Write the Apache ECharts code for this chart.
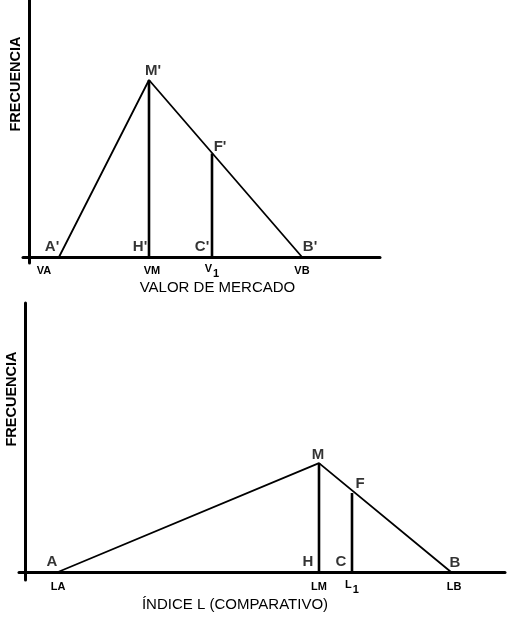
<!DOCTYPE html>
<html><head><meta charset="utf-8">
<script src="https://cdn.jsdelivr.net/npm/echarts@6/dist/echarts.min.js"></script>
<style>html,body{margin:0;padding:0;background:#fff}#c{width:510px;height:620px}</style>
</head><body><div id="c"></div>
<script>
// ---- Top chart: market value distribution ----
const topPointNames = ["A'", "M'", "B'"];
const topPointX = [10, 40, 91];
const topPointY = [0, 59, 0];
const topCutName = ["C'", "F'"];
const topCutX = 61;
const topCutY = 34.5;
const topFootName = "H'";
const topTickValues = [5, 41, 61, 91];
const topTickLabels = ["VA", "VM", "{v|V}{s|1}", "VB"];
const topXTitle = "VALOR DE MERCADO";
const yTitle = "FRECUENCIA";

// ---- Bottom chart: comparative index ----
const botPointNames = ["A", "M", "B"];
const botPointX = [11, 98, 142];
const botPointY = [0, 36.3, 0];
const botCutName = ["C", "F"];
const botCutX = 109;
const botCutY = 26.3;
const botFootName = "H";
const botTickValues = [11, 98, 109, 143];
const botTickLabels = ["LA", "LM", "{v|L}{s|1}", "LB"];
const botXTitle = "ÍNDICE L (COMPARATIVO)";

const FONT = "'Liberation Sans', Arial, sans-serif";

// label offsets (style only)
const topOffsets = {"A'": [-7, -10], "M'": [4, -9], "B'": [8, -10], "H'": [-9, -10], "C'": [-10, -10], "F'": [8, -7]};
const botOffsets = {"A": [-6, -10], "M": [-1, -8], "B": [4, -9], "H": [-11, -10], "C": [-11, -10], "F": [8, -9]};

function labelData(names, xs, ys, cutNames, cx, cy, footName, offs) {
  const d = [];
  names.forEach((n, i) => d.push({ name: n, value: [xs[i], ys[i]] }));
  d.push({ name: footName, value: [xs[1], 0] });
  d.push({ name: cutNames[0], value: [cx, 0] });
  d.push({ name: cutNames[1], value: [cx, cy] });
  d.forEach(it => { it.label = { offset: offs[it.name] }; });
  return d;
}

function xAxisCfg(gi, min, max, ticks, labels, margin) {
  return {
    type: 'value', gridIndex: gi, min: min, max: max,
    axisLine: { show: true, onZero: true, lineStyle: { color: '#000', width: 3 } },
    axisTick: { show: false }, splitLine: { show: false },
    axisLabel: {
      customValues: ticks, margin: margin, color: '#000',
      fontFamily: FONT, fontWeight: 'bold', fontSize: 11,
      formatter: v => { const i = ticks.indexOf(v); return i >= 0 ? labels[i] : ''; },
      rich: {
        v: { fontFamily: FONT, fontWeight: 'bold', fontSize: 11, lineHeight: 13, padding: [0, 0, 5, 0], color: '#000' },
        s: { fontFamily: FONT, fontWeight: 'bold', fontSize: 11, lineHeight: 13, padding: [5, 0, 0, 1], color: '#000' }
      }
    }
  };
}
function yAxisCfg(gi, min, max) {
  return {
    type: 'value', gridIndex: gi, min: min, max: max,
    axisLine: { show: true, onZero: true, lineStyle: { color: '#000', width: 3 } },
    axisTick: { show: false }, splitLine: { show: false }, axisLabel: { show: false }
  };
}
function lineSeries(gi, data, w) {
  return { type: 'line', xAxisIndex: gi, yAxisIndex: gi, data: data, symbol: 'none',
    lineStyle: { color: '#000', width: w }, silent: true, z: 3 };
}

const option = {
  animation: false,
  backgroundColor: '#fff',
  grid: [
    { left: 23, top: 0, width: 357, height: 263 },
    { left: 19, top: 303, width: 486, height: 277 }
  ],
  xAxis: [
    xAxisCfg(0, -2, 117, topTickValues, topTickLabels, 2),
    xAxisCfg(1, -2, 160, botTickValues, botTickLabels, 1)
  ],
  yAxis: [
    yAxisCfg(0, -2, 85.67),
    yAxisCfg(1, -2.67, 89.67)
  ],
  series: [
    lineSeries(0, topPointX.map((x, i) => [x, topPointY[i]]), 1.8),
    lineSeries(0, [[topPointX[1], 0], [topPointX[1], topPointY[1]]], 2.6),
    lineSeries(0, [[topCutX, 0], [topCutX, topCutY]], 2.6),
    lineSeries(1, botPointX.map((x, i) => [x, botPointY[i]]), 1.8),
    lineSeries(1, [[botPointX[1], 0], [botPointX[1], botPointY[1]]], 2.6),
    lineSeries(1, [[botCutX, 0], [botCutX, botCutY]], 2.6),
    {
      type: 'scatter', xAxisIndex: 0, yAxisIndex: 0, symbolSize: 0, silent: true,
      data: labelData(topPointNames, topPointX, topPointY, topCutName, topCutX, topCutY, topFootName, topOffsets),
      label: { show: true, position: 'inside', formatter: p => p.name, color: '#000',
        fontFamily: FONT, fontWeight: 'bold', fontSize: 15 }
    },
    {
      type: 'scatter', xAxisIndex: 1, yAxisIndex: 1, symbolSize: 0, silent: true,
      data: labelData(botPointNames, botPointX, botPointY, botCutName, botCutX, botCutY, botFootName, botOffsets),
      label: { show: true, position: 'inside', formatter: p => p.name, color: '#000',
        fontFamily: FONT, fontWeight: 'bold', fontSize: 15 }
    }
  ],
  graphic: [
    { type: 'text', x: 217.5, y: 288, style: { text: topXTitle, align: 'center', verticalAlign: 'middle',
      font: '15px ' + FONT, fill: '#000' } },
    { type: 'text', x: 235, y: 605, style: { text: botXTitle, align: 'center', verticalAlign: 'middle',
      font: '15px ' + FONT, fill: '#000' } },
    { type: 'text', x: 16, y: 84, rotation: Math.PI / 2, style: { text: yTitle, align: 'center', verticalAlign: 'middle',
      font: 'bold 14.5px ' + FONT, fill: '#000' } },
    { type: 'text', x: 12, y: 399, rotation: Math.PI / 2, style: { text: yTitle, align: 'center', verticalAlign: 'middle',
      font: 'bold 14.5px ' + FONT, fill: '#000' } }
  ]
};
const chart = echarts.init(document.getElementById('c'), null, { renderer: 'canvas' });
chart.setOption(option);
</script></body></html>
